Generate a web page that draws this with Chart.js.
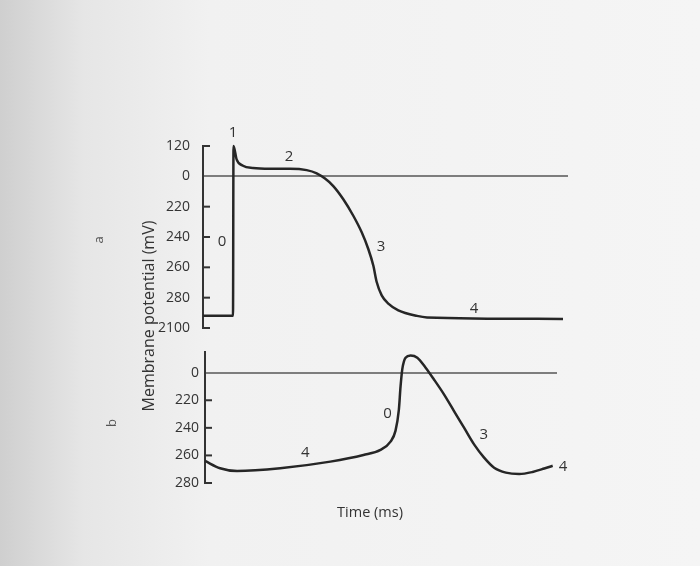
<!DOCTYPE html>
<html>
<head>
<meta charset="utf-8">
<script src="https://cdn.jsdelivr.net/npm/chart.js@4/dist/chart.umd.min.js"></script>
<style>
  html, body { margin: 0; padding: 0; }
  body {
    width: 700px; height: 566px; position: relative; overflow: hidden;
    background: linear-gradient(90deg, #cfcfcf 0%, #e6e6e6 12%, #f1f1f1 30%, #f5f5f5 100%);
    font-family: "Open Sans", sans-serif; color: #333;
  }
  canvas { position: absolute; }
  .lbl { position: absolute; white-space: nowrap; color: #333; }
  .rot { transform: translate(-50%, -50%) rotate(-90deg); }
</style>
</head>
<body>
<canvas id="chartA" width="430" height="242" style="left:150px; top:110px"></canvas>
<canvas id="chartB" width="430" height="175" style="left:150px; top:330px"></canvas>
<div class="lbl rot" style="left:148px; top:316px; font-size:16px">Membrane potential (mV)</div>
<div class="lbl" style="left:370px; top:511px; font-size:14.5px; transform:translate(-50%,-50%)">Time (ms)</div>
<div class="lbl rot" style="left:98px; top:240px; font-size:13px; color:#555">a</div>
<div class="lbl rot" style="left:111px; top:423px; font-size:13px; color:#555">b</div>
<script>
// panel a: ventricular action potential
const timeA = [0, 30, 30.5, 33.7, 40, 50, 67, 87, 103.7, 113.7, 122, 130.3, 140.3, 150.3, 158.7, 165.3, 170.3, 173.7, 178.7, 185.3, 195.3, 214, 224, 360];
const mvA = [-92, -92, 20, 11, 7, 5.5, 5, 5, 4.1, 2, -1.5, -6.4, -15.1, -26, -36.9, -47.9, -58.8, -69.7, -78.5, -83.9, -88.3, -92, -93, -94];
const tickValsA = [20, 0, -20, -40, -60, -80, -100];
const tickTextA = ["120", "0", "220", "240", "260", "280", "2100"];
const phaseA = [
  { t: 30, v: 29, text: "1" },
  { t: 86, v: 13, text: "2" },
  { t: 19, v: -43, text: "0" },
  { t: 178, v: -46.5, text: "3" },
  { t: 271, v: -87, text: "4" }
];

// panel b: pacemaker (nodal) action potential
const timeB = [0, 15, 32, 75, 125, 158, 175, 185, 190, 193.3, 195, 196.7, 200, 205, 211.7, 220, 228.3, 238.3, 248.3, 258.3, 268.3, 278.3, 288.3, 300, 313.3, 326.7, 338.3, 346.7];
const mvB = [-64, -69.3, -71.3, -69.3, -64.5, -59.7, -56, -50, -42, -27, -10, 2.4, 10.9, 12.5, 10.9, 3.6, -4.9, -15.7, -27.8, -39.9, -52, -61.6, -68.9, -72.5, -73.5, -72, -69.5, -67.5];
const tickValsB = [0, -20, -40, -60, -80];
const tickTextB = ["0", "220", "240", "260", "280"];
const phaseB = [
  { t: 182, v: -30, text: "0" },
  { t: 278, v: -45, text: "3" },
  { t: 100, v: -58, text: "4" },
  { t: 357, v: -68, text: "4" }
];

const inkColor = "#262626";
const zeroColor = "#7d7d7d";

// short tick marks drawn inward from the y axis, plus phase numbers
const figurePlugin = {
  id: "figure",
  afterDraw(chart, args, opts) {
    const ctx = chart.ctx;
    const y = chart.scales.y, x = chart.scales.x;
    const left = chart.chartArea.left;
    ctx.save();
    ctx.strokeStyle = "#333";
    ctx.lineWidth = 2;
    y.ticks.forEach(t => {
      if (t.value === 0) return;
      const py = y.getPixelForValue(t.value);
      ctx.beginPath();
      ctx.moveTo(left, py);
      ctx.lineTo(left + 7, py);
      ctx.stroke();
    });
    ctx.fillStyle = "#333";
    ctx.font = "15px 'Open Sans'";
    ctx.textAlign = "center";
    ctx.textBaseline = "middle";
    opts.phases.forEach(p => {
      ctx.fillText(p.text, x.getPixelForValue(p.t), y.getPixelForValue(p.v));
    });
    ctx.restore();
  }
};

function makeChart(id, times, mv, ymin, ymax, tickVals, tickText, phases, xmax, axisWidth, pad, tickPad) {
  return new Chart(document.getElementById(id), {
    type: "line",
    data: {
      datasets: [{
        data: times.map((t, i) => ({ x: t, y: mv[i] })),
        borderColor: inkColor,
        borderWidth: 2.5,
        pointRadius: 0,
        cubicInterpolationMode: "monotone",
        clip: false
      }]
    },
    options: {
      responsive: false,
      animation: false,
      devicePixelRatio: 1,
      layout: { padding: pad },
      plugins: { legend: { display: false }, tooltip: { enabled: false }, figure: { phases: phases } },
      scales: {
        x: { type: "linear", min: 0, max: xmax, display: false },
        y: {
          min: ymin,
          max: ymax,
          afterBuildTicks: axis => { axis.ticks = tickVals.map(v => ({ value: v })); },
          afterFit: axis => { axis.width = axisWidth; },
          border: { display: true, color: "#333", width: 2 },
          grid: {
            drawTicks: false,
            lineWidth: 2,
            color: c => (c.tick && c.tick.value === 0 ? zeroColor : "rgba(0,0,0,0)")
          },
          ticks: {
            padding: tickPad,
            color: "#333",
            font: { family: "'Open Sans'", size: 14 },
            callback: v => tickText[tickVals.indexOf(v)]
          }
        }
      }
    },
    plugins: [figurePlugin]
  });
}

makeChart("chartA", timeA, mvA, -100, 20, tickValsA, tickTextA, phaseA, 365, 53,
  { top: 36, bottom: 24, right: 12, left: 0 }, 13);
makeChart("chartB", timeB, mvB, -80, 15, tickValsB, tickTextB, phaseB, 351, 55,
  { top: 22, bottom: 22, right: 23, left: 0 }, 6);
</script>
</body>
</html>
